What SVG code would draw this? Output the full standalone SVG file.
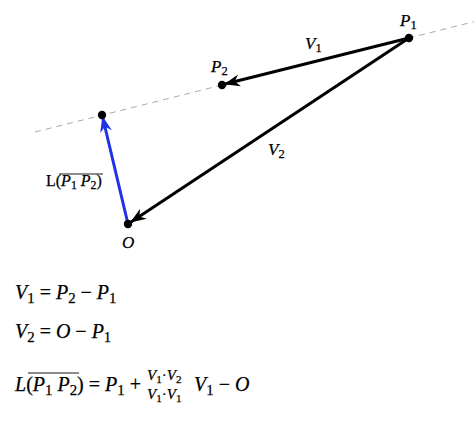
<svg xmlns="http://www.w3.org/2000/svg" width="474" height="421" viewBox="0 0 474 421">
<style>
.t{font-family:"Liberation Serif","DejaVu Serif",serif;font-style:italic;fill:#000;stroke:#000;stroke-width:0.25}
.u{font-style:normal}
.lbl{font-size:17px}
.sm{font-size:16px}
.eq{font-size:20px}
.fr{font-size:15px}
.sub{font-size:0.74em;font-style:normal}
.vec{stroke-width:3;fill:none}
.dot{fill:#000}
.ol{stroke:#000;stroke-width:0.9}
</style>
<defs>
<marker id="ab" markerUnits="userSpaceOnUse" markerWidth="20" markerHeight="14" refX="0" refY="0" viewBox="-16 -7 18 14" orient="auto">
<path d="M1,0 L-15,-6 L-10,0 L-15,6 Z" fill="#000"/>
</marker>
<marker id="ablue" markerUnits="userSpaceOnUse" markerWidth="20" markerHeight="14" refX="0" refY="0" viewBox="-16 -7 18 14" orient="auto">
<path d="M1,0 L-15,-6 L-10,0 L-15,6 Z" fill="#1f32e6"/>
</marker>
</defs>
<g id="connectors">
<line id="extline" x1="35" y1="132" x2="474" y2="21.7" stroke="#aaa" stroke-width="1" stroke-dasharray="6,5"/>
<line id="V1" class="vec" x1="409" y1="38" x2="225" y2="84" stroke="#000" marker-end="url(#ab)"/>
<line id="V2" class="vec" x1="409" y1="38" x2="131" y2="222" stroke="#000" marker-end="url(#ab)"/>
<line id="L" class="vec" x1="128" y1="224" x2="102.6" y2="117" stroke="#1f32e6" marker-end="url(#ablue)"/>
</g>
<g id="P1"><circle class="dot" cx="409" cy="38" r="4.2"/><text class="t lbl" x="400" y="26">P<tspan class="sub" dy="3">1</tspan></text></g>
<g id="P2"><circle class="dot" cx="222" cy="85" r="4.2"/><text class="t lbl" x="211" y="72">P<tspan class="sub" dy="3">2</tspan></text></g>
<g id="Q"><circle class="dot" cx="102" cy="115" r="4.2"/></g>
<g id="O"><circle class="dot" cx="128" cy="224" r="4.2"/><text class="t lbl" x="122" y="248">O</text></g>
<g id="labels">
<text class="t lbl" x="305" y="49">V<tspan class="sub" dy="3">1</tspan></text>
<text class="t lbl" x="268" y="155">V<tspan class="sub" dy="3">2</tspan></text>
<text class="t sm" x="46" y="186"><tspan class="u">L(</tspan>P<tspan class="sub" dy="3">1</tspan><tspan dy="-3"> P</tspan><tspan class="sub" dy="3">2</tspan><tspan class="u" dy="-3">)</tspan></text>
<line class="ol" x1="59" y1="174" x2="103" y2="174"/>
</g>
<g id="equations">
<text class="t eq" x="15" y="299">V<tspan class="sub" dy="4">1</tspan><tspan class="u" dy="-4"> = </tspan>P<tspan class="sub" dy="4">2</tspan><tspan class="u" dy="-4"> − </tspan>P<tspan class="sub" dy="4">1</tspan></text>
<text class="t eq" x="15" y="338">V<tspan class="sub" dy="4">2</tspan><tspan class="u" dy="-4"> = </tspan>O<tspan class="u"> − </tspan>P<tspan class="sub" dy="4">1</tspan></text>
<text class="t eq" x="15" y="391">L<tspan class="u">(</tspan>P<tspan class="sub" dy="4">1</tspan><tspan dy="-4"> P</tspan><tspan class="sub" dy="4">2</tspan><tspan class="u" dy="-4">) = </tspan>P<tspan class="sub" dy="4">1</tspan><tspan class="u" dy="-4"> +</tspan></text>
<line class="ol" x1="28" y1="373" x2="79" y2="373"/>
<text class="t fr" x="147" y="380">V<tspan class="sub" dy="3">1</tspan><tspan class="u" dy="-3">·</tspan>V<tspan class="sub" dy="3">2</tspan></text>
<text class="t fr" x="147" y="399">V<tspan class="sub" dy="3">1</tspan><tspan class="u" dy="-3">·</tspan>V<tspan class="sub" dy="3">1</tspan></text>
<text class="t eq" x="194" y="391">V<tspan class="sub" dy="4">1</tspan><tspan class="u" dy="-4"> − </tspan>O</text>
</g>
</svg>
